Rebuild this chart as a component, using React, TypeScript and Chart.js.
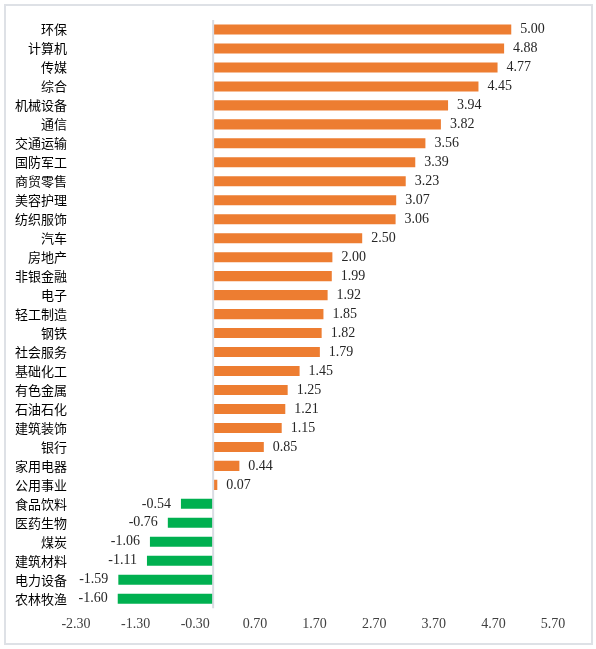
import React, { useEffect, useRef } from "react";
import { Chart, registerables } from "chart.js";

Chart.register(...registerables);

const categories = [
  "环保", "计算机", "传媒", "综合", "机械设备", "通信", "交通运输", "国防军工",
  "商贸零售", "美容护理", "纺织服饰", "汽车", "房地产", "非银金融", "电子",
  "轻工制造", "钢铁", "社会服务", "基础化工", "有色金属", "石油石化", "建筑装饰",
  "银行", "家用电器", "公用事业", "食品饮料", "医药生物", "煤炭", "建筑材料",
  "电力设备", "农林牧渔",
];

const values = [
  5.0, 4.88, 4.77, 4.45, 3.94, 3.82, 3.56, 3.39, 3.23, 3.07, 3.06, 2.5, 2.0,
  1.99, 1.92, 1.85, 1.82, 1.79, 1.45, 1.25, 1.21, 1.15, 0.85, 0.44, 0.07,
  -0.54, -0.76, -1.06, -1.11, -1.59, -1.6,
];

const xTicks = [-2.3, -1.3, -0.3, 0.7, 1.7, 2.7, 3.7, 4.7, 5.7];

const POS_COLOR = "#ED7D31";
const NEG_COLOR = "#00B050";
const SERIF = "'Liberation Serif', 'Times New Roman', serif";
const CJK = "'Noto Sans CJK SC', 'Noto Sans', sans-serif";

const labelsPlugin = {
  id: "customLabels",
  afterDatasetsDraw(chart: any) {
    const { ctx, chartArea, scales } = chart;
    const xs = scales.x;
    const ys = scales.y;
    ctx.save();
    // zero line
    const x0 = xs.getPixelForValue(0);
    ctx.strokeStyle = "#D9DCE3";
    ctx.lineWidth = 2;
    ctx.beginPath();
    ctx.moveTo(x0, chartArea.top);
    ctx.lineTo(x0, chartArea.bottom);
    ctx.stroke();

    // category labels
    ctx.font = `13px ${CJK}`;
    ctx.fillStyle = "#000000";
    ctx.textAlign = "right";
    ctx.textBaseline = "middle";
    categories.forEach((c, i) => {
      const y = ys.getPixelForValue(i);
      ctx.fillText(c, chartArea.left - 9, y);
    });

    // value labels
    ctx.font = `14px ${SERIF}`;
    ctx.fillStyle = "#262626";
    values.forEach((v, i) => {
      const y = ys.getPixelForValue(i);
      const xe = xs.getPixelForValue(v);
      const t = v.toFixed(2);
      if (v >= 0) {
        ctx.textAlign = "left";
        ctx.fillText(t, xe + 9, y);
      } else {
        ctx.textAlign = "right";
        ctx.fillText(t, xe - 10, y);
      }
    });
    ctx.restore();
  },
};

export default function App() {
  const canvasRef = useRef<HTMLCanvasElement | null>(null);

  useEffect(() => {
    if (!canvasRef.current) return;
    const chart = new Chart(canvasRef.current, {
      type: "bar",
      data: {
        labels: categories,
        datasets: [
          {
            data: values,
            backgroundColor: values.map((v) => (v >= 0 ? POS_COLOR : NEG_COLOR)),
            borderWidth: 0,
            categoryPercentage: 1,
            barPercentage: 0.53,
          },
        ],
      },
      options: {
        indexAxis: "y",
        animation: false,
        responsive: false,
        maintainAspectRatio: false,
        layout: { padding: { left: 76, right: 43, top: 20, bottom: 8 } },
        plugins: {
          legend: { display: false },
          tooltip: { enabled: false },
          title: { display: false },
        },
        scales: {
          x: {
            type: "linear",
            min: -2.3,
            max: 5.7,
            afterBuildTicks: (scale: any) => {
              scale.ticks = xTicks.map((v) => ({ value: v }));
            },
            grid: { display: false, drawTicks: false },
            border: { display: false },
            ticks: {
              padding: 8,
              color: "#404040",
              font: { family: SERIF, size: 14 },
              callback: (v: any) => Number(v).toFixed(2),
              autoSkip: false,
              maxRotation: 0,
            },
          },
          y: {
            type: "category",
            display: false,
            offset: true,
          },
        },
      },
      plugins: [labelsPlugin],
    });
    return () => chart.destroy();
  }, []);

  return (
    <div style={{ position: "absolute", left: 0, top: 0, width: 596, height: 649, background: "#ffffff" }}>
      <canvas ref={canvasRef} width={596} height={649} style={{ position: "absolute", left: 0, top: 0, width: 596, height: 649 }} />
      <div
        style={{
          position: "absolute",
          left: 4,
          top: 4,
          width: 585,
          height: 637,
          border: "2px solid #DEE1E6",
          pointerEvents: "none",
        }}
      />
    </div>
  );
}
